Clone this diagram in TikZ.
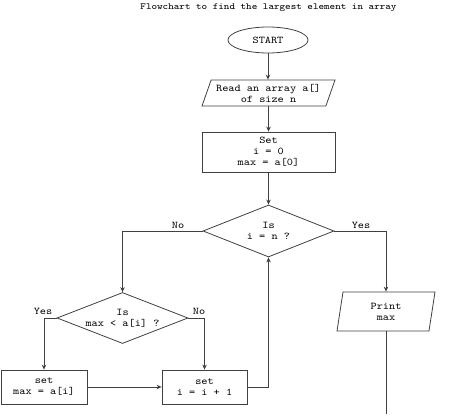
\documentclass[tikz,border=0pt]{standalone}
\usepackage{fontspec}
\setmonofont{Latin Modern Mono}[FakeStretch=1.14]
\usetikzlibrary{shapes.geometric,arrows.meta}
\begin{document}
\begin{tikzpicture}[x=1pt,y=-1pt,
  every node/.style={font=\ttfamily\fontsize{10.3}{11}\selectfont, align=center, inner sep=0pt},
  shp/.style={draw=black!75, line width=0.8pt},
  proc/.style={shp, rectangle},
  io/.style={shp, trapezium, trapezium stretches body},
  dec/.style={shp, diamond, aspect=2.5},
  conn/.style={draw=black!75, line width=0.8pt},
  arr/.style={conn, -{Stealth[length=5pt,width=4.5pt]}},
  lbl/.style={font=\ttfamily\fontsize{10.3}{11}\selectfont}
]
\useasboundingbox (0,0) rectangle (474,417);

\node[font=\ttfamily\fontsize{9.3}{11}\selectfont] (title) at (268.5,8) {Flowchart to find the largest element in array};

\node[shp, ellipse, minimum width=80, minimum height=26] (start) at (268,40) {START};
\node[io, minimum width=133, minimum height=26, trapezium left angle=63.4, trapezium right angle=116.6] (read) at (268.5,93) {Read an array a[]\\of size n};
\node[proc, minimum width=133, minimum height=40] (set) at (268.5,152) {Set\\i = 0\\max = a[0]};
\node[dec, minimum width=131, minimum height=52] (d1) at (268.5,231) {Is\\i = n ?};
\node[dec, minimum width=131, minimum height=51] (d2) at (122.5,318) {Is\\max < a[i] ?};
\node[io, minimum width=98, minimum height=39, trapezium left angle=70.9, trapezium right angle=109.1] (print) at (386,311.5) {Print\\max};
\node[proc, minimum width=86, minimum height=34] (setmax) at (44,387) {set\\max = a[i]};
\node[proc, minimum width=85, minimum height=34] (inc) at (204.5,387) {set\\i = i + 1};

\node[lbl] (no1) at (178,225) {No};
\node[lbl] (yes1) at (361,225) {Yes};
\node[lbl] (yes2) at (43,311) {Yes};
\node[lbl] (no2) at (199,311) {No};

\coordinate (end) at (381,414);

\draw[arr] (start.south) -- (start.south |- read.north);
\draw[arr] (read.south) -- (read.south |- set.north);
\draw[arr] (set.south) -- (set.south |- d1.north);
\draw[arr] (d1.west) -| (d2.north);
\draw[arr] (d1.east) -| (print.north);
\draw[arr] (d2.west) -| (setmax.north);
\draw[arr] (d2.east) -| (inc.north);
\draw[arr] (setmax.east) -- (inc.west);
\draw[arr] (inc.east) -| (d1.south);
\draw[conn] (print.south) -- (print.south |- end);
\end{tikzpicture}
\end{document}
